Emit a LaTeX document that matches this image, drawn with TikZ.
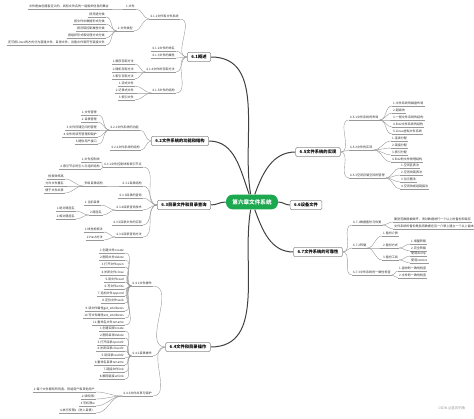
\documentclass[tikz,border=0pt]{standalone}
\usepackage{fontspec}
\setmainfont{Noto Sans CJK SC}
\usetikzlibrary{positioning,backgrounds}
\definecolor{mapgreen}{RGB}{28,168,78}
\tikzset{
  root/.style={fill=mapgreen, text=white, rounded corners=5pt, minimum width=39pt, minimum height=11pt,
    font=\fontsize{4.2}{5}\selectfont\bfseries, inner sep=2pt},
  topic/.style={draw=black!45, fill=white, rounded corners=1pt, line width=0.4pt, minimum height=7pt,
    inner xsep=3pt, inner ysep=1.5pt, font=\fontsize{3.2}{3.8}\selectfont\bfseries},
  uline/.style={draw=black!40, line width=0.3pt},
  lf/.style={inner xsep=0.7pt, inner ysep=0.5pt, font=\fontsize{2.3}{2.6}\selectfont, text=black!80,
    append after command={(\tikzlastnode.south west) edge[uline] (\tikzlastnode.south east)}},
  lleaf/.style={lf, anchor=south east},
  rleaf/.style={lf, anchor=south west},
  main/.style={draw=black!75, line width=0.75pt},
  br/.style={draw=black!40, line width=0.3pt},
}
\newcommand{\lnk}[2]{\draw[br] (#1) to[out=180,in=0] (#2.south east);}
\newcommand{\rnk}[2]{\draw[br] (#1) to[out=0,in=180] (#2.south west);}

\begin{document}
\begin{tikzpicture}[x=0.75pt,y=0.75pt]
\useasboundingbox (0,0) rectangle (474,418);
% 中心主题
\node[root] (root) at (252,216) {第六章文件系统};
% 一级主题
\node[topic] (s61) at (199,361) {6.1概述};
\node[topic] (s62) at (180,277) {6.2文件系统的功能和结构};
\node[topic] (s63) at (184,213) {6.3目录文件和目录查询};
\node[topic] (s64) at (188,71) {6.4文件和目录操作};
\node[topic] (s65) at (318,266) {6.5文件系统的实现};
\node[topic] (s66) at (306,213) {6.6设备文件};
\node[topic] (s67) at (318,166) {6.7文件系统的可靠性};
% 6.1 概述
\node[lleaf] (a1) at (180,399) {6.1.1文件和文件系统};
\node[lleaf] (a2) at (176,367) {6.1.2文件的命名};
\node[lleaf] (a3) at (176,360) {6.1.3文件的属性};
\node[lleaf] (a4) at (176,346) {6.1.4文件的存取方法};
\node[lleaf] (a5) at (176,325) {6.1.5文件的结构};
\node[lleaf] (a11) at (136,409) {1.文件};
\node[lleaf] (a12) at (134,387) {2.文件类型};
\node[lleaf] (a111) at (110,409) {文件是由创建者定义的、具有文件名的一组相关信息的集合};
\node[lleaf] (a121) at (106,401) {按用途分类};
\node[lleaf] (a122) at (106,394) {按文件中数据形式分类};
\node[lleaf] (a123) at (106,387) {按存取控制属性分类};
\node[lleaf] (a124) at (106,380) {按组织形式和处理方式分类};
\node[lleaf] (a125) at (106,373) {还可按Linux的方式分为普通文件、目录文件、设备文件和符号链接文件};
\node[lleaf] (a41) at (135,354) {1.顺序存取方法};
\node[lleaf] (a42) at (135,346) {2.随机存取方法};
\node[lleaf] (a43) at (135,339) {3.索引存取方法};
\node[lleaf] (a51) at (135,332) {1.流式文件};
\node[lleaf] (a52) at (135,325) {2.记录式文件};
\node[lleaf] (a53) at (135,318) {3.索引文件};
% 6.2 功能和结构
\node[lleaf] (b1) at (140,288) {6.2.1文件系统的功能};
\node[lleaf] (b2) at (141,268) {6.2.2文件系统的结构};
\node[lleaf] (b11) at (98,303) {1.文件管理};
\node[lleaf] (b12) at (98,296) {2.目录管理};
\node[lleaf] (b13) at (98,288) {3.文件存储空间的管理};
\node[lleaf] (b14) at (98,281) {4.文件的读写管理和保护};
\node[lleaf] (b15) at (98,274) {5.提供用户接口};
% 6.3 目录
\node[lleaf] (c1) at (143,251) {6.3.1文件控制块和索引节点};
\node[lleaf] (c2) at (143,232) {6.3.2目录结构};
\node[lleaf] (c3) at (143,220) {6.3.3目录的查询};
\node[lleaf] (c4) at (143,208) {6.3.4目录查询技术};
\node[lleaf] (c5) at (143,193) {6.3.5目录文件的实现};
\node[lleaf] (c6) at (143,181) {6.3.6目录查询方法};
\node[lleaf] (c11) at (101,256) {1.文件控制块};
\node[lleaf] (c12) at (101,249) {2.索引节点的引入与组织结构};
\node[lleaf] (c21) at (104,232) {多级目录结构};
\node[lleaf] (c211) at (65,239) {检索效率高};
\node[lleaf] (c212) at (65,232) {允许文件重名};
\node[lleaf] (c213) at (65,225) {便于文件共享};
\node[lleaf] (c41) at (101,213) {1.当前目录};
\node[lleaf] (c42) at (103,203) {2.路径名};
\node[lleaf] (c421) at (76,207) {1.绝对路径名};
\node[lleaf] (c422) at (76,199) {2.相对路径名};
\node[lleaf] (c61) at (104,186) {1.线性检索法};
\node[lleaf] (c62) at (104,178) {2.Hash方法};
% 6.4 文件和目录操作
\node[lleaf] (d1) at (153,132) {6.4.1文件操作};
\node[lleaf] (d2) at (153,62) {6.4.2目录操作};
\node[lleaf] (d3) at (153,22) {6.4.3文件共享与保护};
\node[lleaf] (d11) at (125,165) {1.创建文件create};
\node[lleaf] (d12) at (125,158) {2.删除文件delete};
\node[lleaf] (d13) at (125,151) {3.打开文件open};
\node[lleaf] (d14) at (125,143) {4.关闭文件close};
\node[lleaf] (d15) at (125,136) {5.读文件read};
\node[lleaf] (d16) at (125,129) {6.写文件write};
\node[lleaf] (d17) at (125,122) {7.追加文件append};
\node[lleaf] (d18) at (125,115) {8.定位文件seek};
\node[lleaf] (d19) at (125,107) {9.读文件属性get\_attributes};
\node[lleaf] (d110) at (125,100) {10.写文件属性set\_attributes};
\node[lleaf] (d111) at (125,93) {11.重命名文件rename};
\node[lleaf] (d21) at (125,87) {1.创建目录create};
\node[lleaf] (d22) at (125,80) {2.删除目录delete};
\node[lleaf] (d23) at (125,73) {3.打开目录opendir};
\node[lleaf] (d24) at (125,67) {4.关闭目录closedir};
\node[lleaf] (d25) at (125,60) {5.读目录readdir};
\node[lleaf] (d26) at (125,53) {6.重命名目录rename};
\node[lleaf] (d27) at (125,46) {7.链接文件link};
\node[lleaf] (d28) at (125,39) {8.解除链接unlink};
\node[lleaf] (d31) at (96,26) {1.每个文件都有所有者、同组用户和其他用户};
\node[lleaf] (d32) at (96,19) {2.读权限r};
\node[lleaf] (d33) at (96,12) {3.写权限w};
\node[lleaf] (d34) at (96,5) {4.执行权限x（进入目录）};
% 6.5 实现
\node[rleaf] (e1) at (349,298) {6.5.1文件系统的布局};
\node[rleaf] (e2) at (349,268) {6.5.2文件的实现};
\node[rleaf] (e3) at (349,240) {6.5.3空闲存储空间的管理};
\node[rleaf] (e11) at (392,312) {1.文件系统的磁盘布局};
\node[rleaf] (e12) at (392,305) {2.超级块};
\node[rleaf] (e13) at (392,298) {3.一般文件系统的结构};
\node[rleaf] (e14) at (392,291) {4.Ext2文件系统的结构};
\node[rleaf] (e15) at (392,284) {5.Linux虚拟文件系统};
\node[rleaf] (e21) at (391,277) {1.连续分配};
\node[rleaf] (e22) at (391,270) {2.链接分配};
\node[rleaf] (e23) at (391,263) {3.索引分配};
\node[rleaf] (e24) at (391,256) {4.Ext2的文件物理结构};
\node[rleaf] (e31) at (400,250) {1.空闲区表法};
\node[rleaf] (e32) at (400,243) {2.空闲块链表法};
\node[rleaf] (e33) at (400,236) {3.位示图法};
\node[rleaf] (e34) at (400,229) {4.空闲块成组链接法};
% 6.7 可靠性
\node[rleaf] (g1) at (352,193) {6.7.1数据备份与恢复};
\node[rleaf] (g2) at (352,170) {6.7.2转储};
\node[rleaf] (g3) at (352,143) {6.7.3文件系统的一致性检查};
\node[rleaf] (g11) at (393,196) {要防范数据被破坏，须对数据进行一个以上的备份和保存};
\node[rleaf] (g12) at (393,189) {文件系统的备份是指将数据在另一介质上建立一个以上副本};
\node[rleaf] (g21) at (382,182) {1.备份介质};
\node[rleaf] (g22) at (382,170) {2.备份方式};
\node[rleaf] (g23) at (382,158) {3.备份工具};
\node[rleaf] (g221) at (410,174) {1.增量转储};
\node[rleaf] (g222) at (410,167) {2.完全转储};
\node[rleaf] (g231) at (410,162) {使用dump};
\node[rleaf] (g232) at (410,155) {使用restore};
\node[rleaf] (g31) at (398,147) {1.盘块的一致性检查};
\node[rleaf] (g32) at (398,140) {2.文件的一致性检查};
% 水印
\node[font=\fontsize{2.6}{3}\selectfont, text=black!40, anchor=south east] (wm) at (470,3) {CSDN @蓝风钓鱼};
% 连线
\begin{scope}[on background layer]
\draw[main] (root) to[out=100,in=0] (s61.east);
\draw[main] (root) to[out=110,in=0] (s62.east);
\draw[main] (root) to[out=180,in=0] (s63.east);
\draw[main] (root) to[out=-100,in=0] (s64.east);
\draw[main] (root) to[out=70,in=180] (s65.west);
\draw[main] (root) to[out=0,in=180] (s66.west);
\draw[main] (root) to[out=-70,in=180] (s67.west);
\lnk{s61.west}{a1} \lnk{s61.west}{a2} \lnk{s61.west}{a3} \lnk{s61.west}{a4} \lnk{s61.west}{a5}
\lnk{a1.south west}{a11} \lnk{a1.south west}{a12} \lnk{a11.south west}{a111}
\lnk{a12.south west}{a121} \lnk{a12.south west}{a122} \lnk{a12.south west}{a123}
\lnk{a12.south west}{a124} \lnk{a12.south west}{a125}
\lnk{a4.south west}{a41} \lnk{a4.south west}{a42} \lnk{a4.south west}{a43}
\lnk{a5.south west}{a51} \lnk{a5.south west}{a52} \lnk{a5.south west}{a53}
\lnk{s62.west}{b1} \lnk{s62.west}{b2}
\lnk{b1.south west}{b11} \lnk{b1.south west}{b12} \lnk{b1.south west}{b13}
\lnk{b1.south west}{b14} \lnk{b1.south west}{b15}
\lnk{s63.west}{c1} \lnk{s63.west}{c2} \lnk{s63.west}{c3}
\lnk{s63.west}{c4} \lnk{s63.west}{c5} \lnk{s63.west}{c6}
\lnk{c1.south west}{c11} \lnk{c1.south west}{c12} \lnk{c2.south west}{c21}
\lnk{c21.south west}{c211} \lnk{c21.south west}{c212} \lnk{c21.south west}{c213}
\lnk{c4.south west}{c41} \lnk{c4.south west}{c42}
\lnk{c42.south west}{c421} \lnk{c42.south west}{c422}
\lnk{c6.south west}{c61} \lnk{c6.south west}{c62}
\lnk{s64.west}{d1} \lnk{s64.west}{d2} \lnk{s64.west}{d3}
\lnk{d1.south west}{d11} \lnk{d1.south west}{d12} \lnk{d1.south west}{d13}
\lnk{d1.south west}{d14} \lnk{d1.south west}{d15} \lnk{d1.south west}{d16}
\lnk{d1.south west}{d17} \lnk{d1.south west}{d18} \lnk{d1.south west}{d19}
\lnk{d1.south west}{d110} \lnk{d1.south west}{d111}
\lnk{d2.south west}{d21} \lnk{d2.south west}{d22} \lnk{d2.south west}{d23}
\lnk{d2.south west}{d24} \lnk{d2.south west}{d25} \lnk{d2.south west}{d26}
\lnk{d2.south west}{d27} \lnk{d2.south west}{d28}
\lnk{d3.south west}{d31} \lnk{d3.south west}{d32} \lnk{d3.south west}{d33} \lnk{d3.south west}{d34}
\rnk{s65.east}{e1} \rnk{s65.east}{e2} \rnk{s65.east}{e3}
\rnk{e1.south east}{e11} \rnk{e1.south east}{e12} \rnk{e1.south east}{e13}
\rnk{e1.south east}{e14} \rnk{e1.south east}{e15}
\rnk{e2.south east}{e21} \rnk{e2.south east}{e22} \rnk{e2.south east}{e23} \rnk{e2.south east}{e24}
\rnk{e3.south east}{e31} \rnk{e3.south east}{e32} \rnk{e3.south east}{e33} \rnk{e3.south east}{e34}
\rnk{s67.east}{g1} \rnk{s67.east}{g2} \rnk{s67.east}{g3}
\rnk{g1.south east}{g11} \rnk{g1.south east}{g12}
\rnk{g2.south east}{g21} \rnk{g2.south east}{g22} \rnk{g2.south east}{g23}
\rnk{g22.south east}{g221} \rnk{g22.south east}{g222}
\rnk{g23.south east}{g231} \rnk{g23.south east}{g232}
\rnk{g3.south east}{g31} \rnk{g3.south east}{g32}
\end{scope}
\end{tikzpicture}
\end{document}
